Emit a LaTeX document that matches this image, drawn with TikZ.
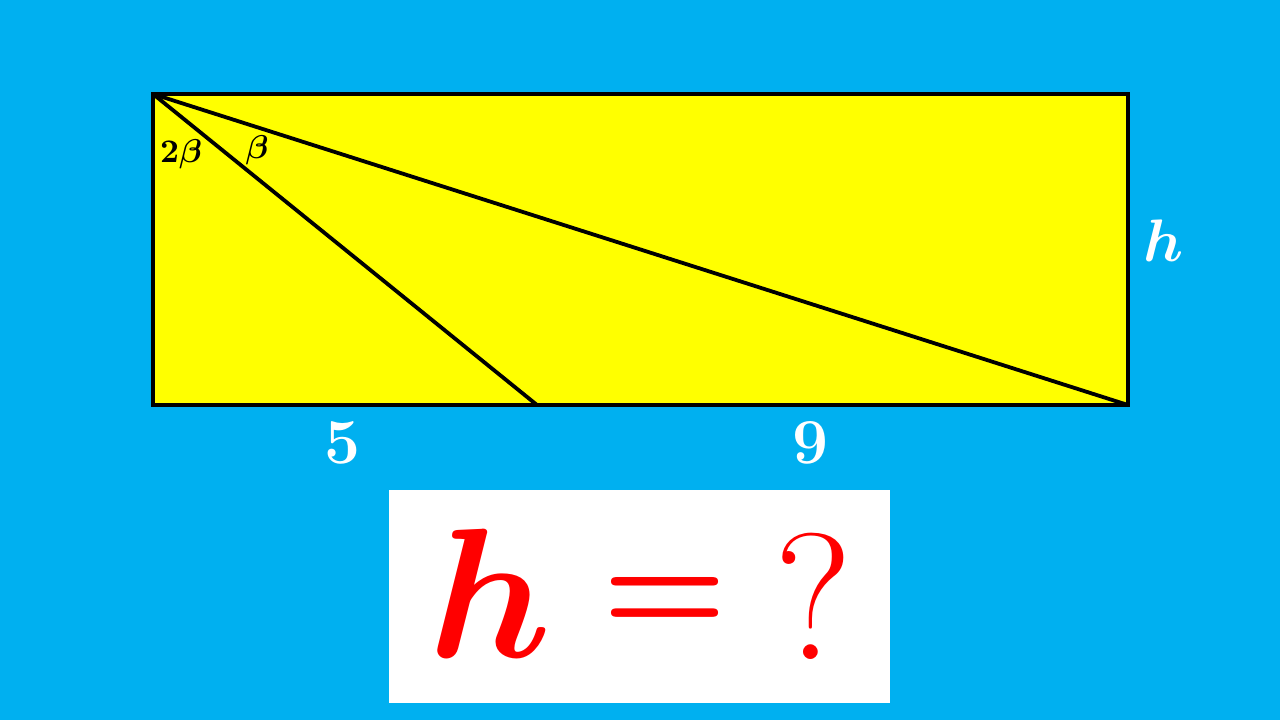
\documentclass[tikz,border=0pt]{standalone}
\usepackage{amsmath,amssymb,bm}
\definecolor{bgblue}{HTML}{00B0F0}
\definecolor{rectyellow}{HTML}{FFFF00}
\definecolor{qred}{HTML}{FF0000}
\tikzset{
  edge/.style={line width=3.8pt, line join=miter},
  whitelab/.style={text=white, inner sep=0pt},
  anglelab/.style={text=black, inner sep=0pt},
  redlab/.style={text=qred, inner sep=0pt}
}
\begin{document}
\begin{tikzpicture}[x=1pt,y=-1pt]
\useasboundingbox (0,0) rectangle (1280,720);
\fill[bgblue] (0,0) rectangle (1280,720);
\coordinate (A) at (153,94);
\coordinate (B) at (1128,94);
\coordinate (C) at (1128,405);
\coordinate (D) at (153,405);
\coordinate (E) at (537,405);
\fill[rectyellow] (A) rectangle (C);
\draw[edge] (A) -- (E);
\draw[edge] (A) -- (C);
\draw[edge] (A) -- (B) -- (C) -- (D) -- cycle;
\node[anglelab, scale=3.3] (ab2) at (181,154) {$\boldsymbol{2\beta}$};
\node[anglelab, scale=3.3] (ab1) at (257,150) {$\boldsymbol{\beta}$};
\node[whitelab, scale=6] (hl) at (1164,241) {$\boldsymbol{h}$};
\node[whitelab] (five) at (343,443) {\fontsize{64}{70}\selectfont\textbf{5}};
\node[whitelab] (nine) at (811,443) {\fontsize{64}{70}\selectfont\textbf{9}};
\node[fill=white, minimum width=501pt, minimum height=213pt, inner sep=0pt] (box) at (639.5,596.5) {};
\node[redlab, scale=18.5] (rh) at (490,593) {$\boldsymbol{h}$};
\node[redlab, scale=14] (req) at (665,605) {$\boldsymbol{=}$};
\node[redlab] (rq) at (813,596) {\fontsize{180}{190}\selectfont ?};
\end{tikzpicture}
\end{document}
